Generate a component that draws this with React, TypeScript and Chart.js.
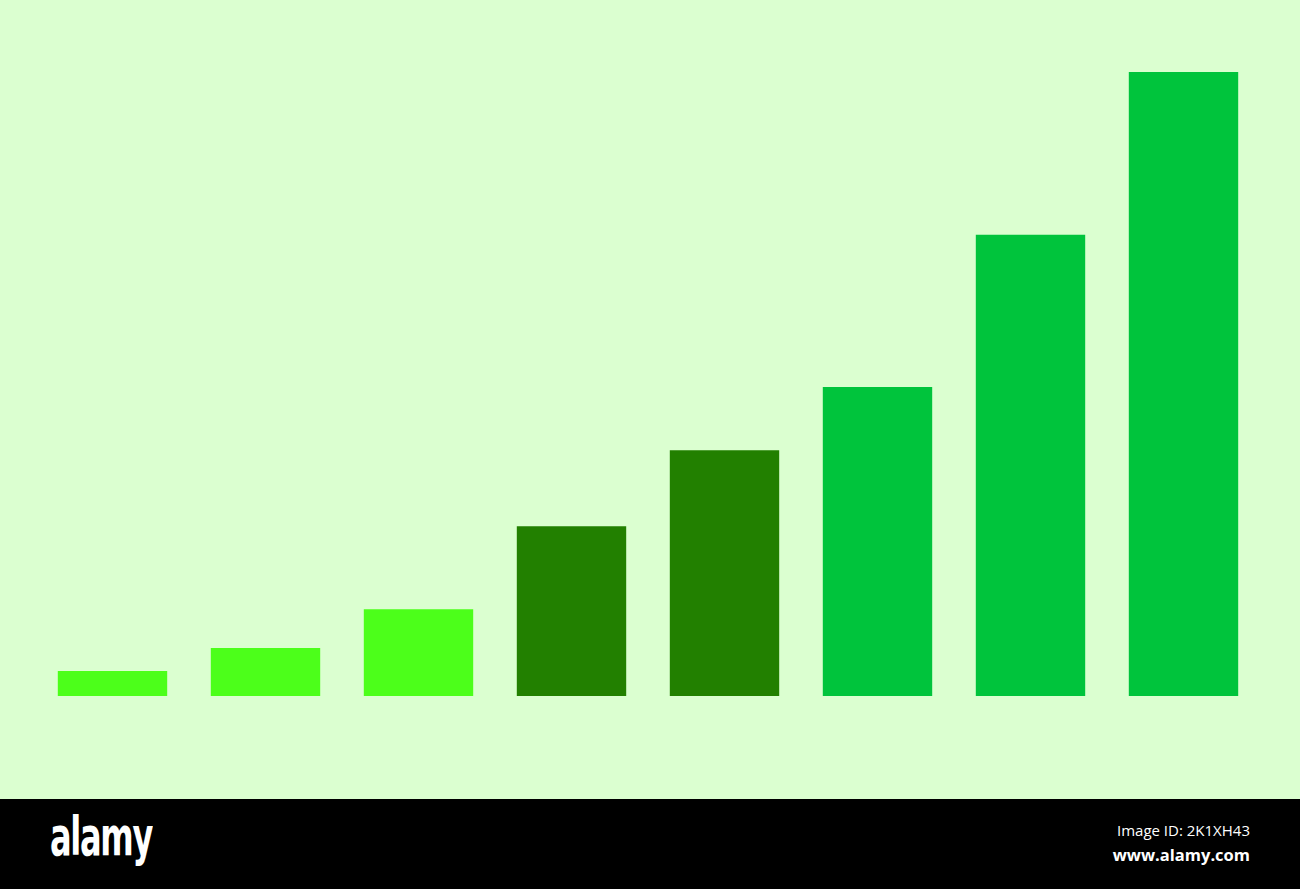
import React, { useEffect, useRef } from "react";
import { Chart, registerables } from "chart.js";

Chart.register(...registerables);

const categories = ["1", "2", "3", "4", "5", "6", "7", "8"];
const values = [4.0, 7.7, 13.9, 27.2, 39.4, 49.5, 73.9, 100];
const barColors = ["#4cff1a", "#4cff1a", "#4cff1a", "#228000", "#228000", "#00c43c", "#00c43c", "#00c43c"];
const yMin = 0;
const yMax = 100;

export default function App() {
  const ref = useRef<HTMLCanvasElement | null>(null);

  useEffect(() => {
    document.body.style.margin = "0";
    if (!ref.current) return;
    const chart = new Chart(ref.current, {
      type: "bar",
      data: {
        labels: categories,
        datasets: [
          {
            data: values,
            backgroundColor: barColors,
            borderWidth: 0,
            categoryPercentage: 0.715,
            barPercentage: 1,
          },
        ],
      },
      options: {
        animation: false,
        responsive: false,
        maintainAspectRatio: false,
        layout: { padding: { left: 36, right: 40, top: 72, bottom: 103 } },
        plugins: { legend: { display: false }, tooltip: { enabled: false }, title: { display: false } },
        scales: {
          x: { display: false },
          y: { display: false, min: yMin, max: yMax },
        },
      },
    });
    return () => chart.destroy();
  }, []);

  return (
    <div style={{ position: "absolute", left: 0, top: 0, width: 1300, height: 889, background: "#000" }}>
      <div style={{ position: "absolute", left: 0, top: 0, width: 1300, height: 799, background: "#dbffd0" }}>
        <canvas ref={ref} width={1300} height={799} style={{ display: "block", width: 1300, height: 799 }} />
      </div>
      <div
        style={{
          position: "absolute",
          left: 50,
          top: 806,
          color: "#fff",
          fontFamily: "'Liberation Sans Narrow', 'DejaVu Sans Condensed', 'Roboto', sans-serif",
          fontWeight: 700,
          fontSize: 54,
          letterSpacing: -2,
          transform: "scaleX(0.66)",
          transformOrigin: "left top",
          lineHeight: "62px",
          whiteSpace: "nowrap",
        }}
      >
        alamy
      </div>
      <div
        style={{
          position: "absolute",
          right: 50,
          top: 819,
          color: "#fff",
          fontFamily: "'Open Sans', 'Noto Sans', sans-serif",
          fontSize: 15,
          lineHeight: "22px",
          textAlign: "right",
        }}
      >
        Image ID: 2K1XH43
      </div>
      <div
        style={{
          position: "absolute",
          right: 50,
          top: 843,
          color: "#fff",
          fontFamily: "'Open Sans', 'Noto Sans', sans-serif",
          fontWeight: 700,
          fontSize: 16.5,
          lineHeight: "24px",
          textAlign: "right",
        }}
      >
        www.alamy.com
      </div>
    </div>
  );
}
